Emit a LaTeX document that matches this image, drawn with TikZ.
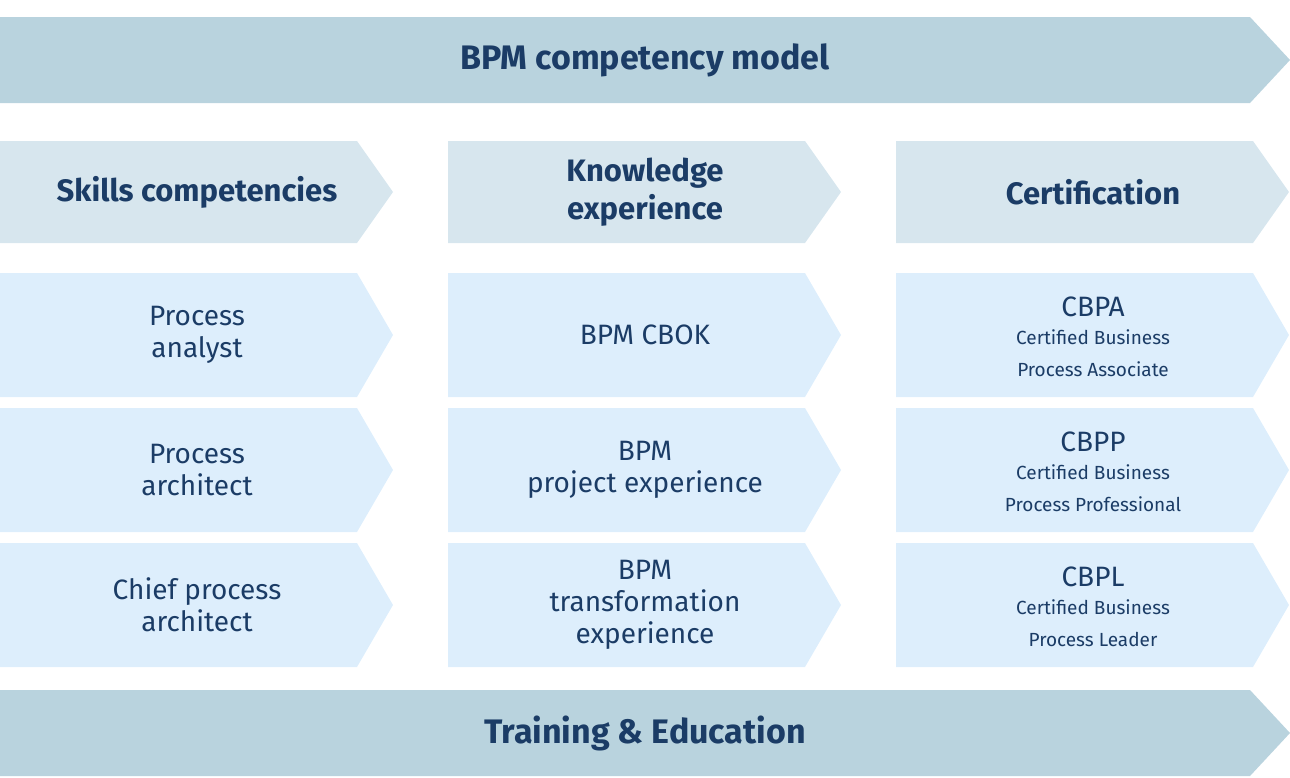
\documentclass[tikz,border=0pt]{standalone}
\usepackage{fontspec}
\setmainfont{Fira Sans}
\definecolor{band}{HTML}{B9D3DE}
\definecolor{head}{HTML}{D7E6EE}
\definecolor{cell}{HTML}{DDEEFC}
\definecolor{txt}{HTML}{1B3C66}
\newcommand{\smtxt}{\fontsize{19}{24}\selectfont}
\newcommand{\chev}[6]{%
  \fill[#1] (#2,#4) -- (#3,#4) -- (#6,{(#4+#5)/2}) -- (#3,#5) -- (#2,#5) -- cycle;}
\begin{document}
\begin{tikzpicture}[x=1pt,y=-1pt,
  lab/.style={text=txt,align=center,font=\fontsize{28}{32}\selectfont},
  hd/.style={text=txt,align=center,font=\fontsize{31}{38}\selectfont\bfseries}]
\useasboundingbox (0,0) rectangle (1290,777);
\chev{band}{0}{1250}{17}{103}{1290}
\chev{band}{0}{1250}{690}{776}{1290}
\foreach \xa/\xb/\xt in {0/357/393,448/805/841,896/1253/1289}{
  \chev{head}{\xa}{\xb}{141}{243}{\xt}
  \chev{cell}{\xa}{\xb}{273}{397}{\xt}
  \chev{cell}{\xa}{\xb}{408}{532}{\xt}
  \chev{cell}{\xa}{\xb}{543}{667}{\xt}
}
\node[hd,font=\fontsize{34}{40}\selectfont\bfseries] (t) at (645,60) {BPM competency model};
\node[hd,font=\fontsize{34}{40}\selectfont\bfseries] (b) at (645,733) {Training \& Education};
\node[hd] (h1) at (197,192) {Skills competencies};
\node[hd] (h2) at (645,192) {Knowledge\\experience};
\node[hd] (h3) at (1093,192) {Certification};
\node[lab] (a1) at (197,335) {Process\\analyst};
\node[lab] (a2) at (197,470) {Process\\architect};
\node[lab] (a3) at (197,605) {Chief process\\architect};
\node[lab] (b1) at (645,335) {BPM CBOK};
\node[lab] (b2) at (645,470) {BPM\\project experience};
\node[lab] (b3) at (645,605) {BPM\\transformation\\experience};
\node[lab] (c1) at (1093,337) {CBPA\\[-4pt]{\smtxt Certified Business}\\{\smtxt Process Associate}};
\node[lab] (c2) at (1093,472) {CBPP\\[-4pt]{\smtxt Certified Business}\\{\smtxt Process Professional}};
\node[lab] (c3) at (1093,607) {CBPL\\[-4pt]{\smtxt Certified Business}\\{\smtxt Process Leader}};
\end{tikzpicture}
\end{document}
